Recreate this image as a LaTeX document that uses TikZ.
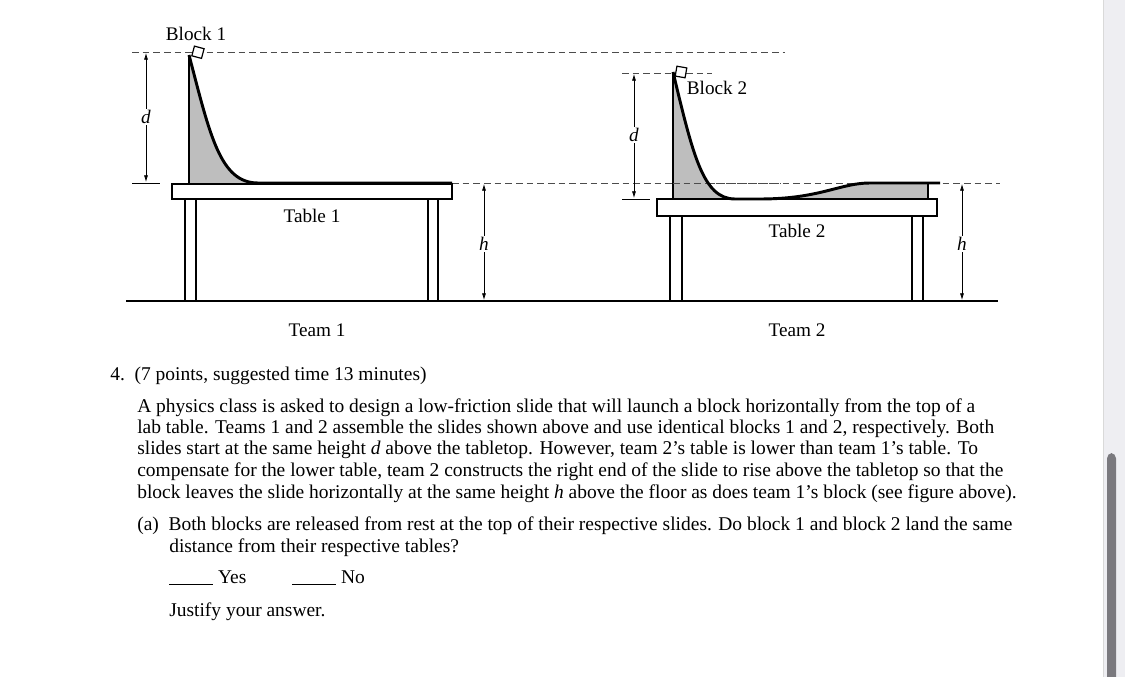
\documentclass[tikz,border=0pt]{standalone}
\usepackage{fontspec}
\setmainfont{Liberation Serif}
\usetikzlibrary{arrows.meta}
\definecolor{slidegray}{RGB}{190,190,190}
\definecolor{stripgray}{RGB}{238,238,242}
\definecolor{bargray}{RGB}{122,121,126}
\begin{document}
\begin{tikzpicture}[x=0.75pt,y=-0.75pt,
  thin line/.style={line width=0.9pt},
  slide/.style={line width=2.2pt},
  dashline/.style={dash pattern=on 5pt off 3pt,line width=0.7pt,black!70},
  dimarrow/.style={{Latex[length=5pt,width=3pt]}-{Latex[length=5pt,width=3pt]},line width=0.5pt},
  lbl/.style={font=\fontsize{14.4}{16}\selectfont,inner sep=0pt},
  ilbl/.style={fill=white,inner sep=1pt,font=\fontsize{14.4}{16}\selectfont\itshape},
  body/.style={font=\fontsize{14.6}{17}\selectfont,inner sep=0pt,anchor=base west}]
\useasboundingbox (0,0) rectangle (1125,677);
\fill[white] (0,0) rectangle (1125,677);
\fill[stripgray] (1103,0) rectangle (1125,677);
\draw[black!15] (1103,0) -- (1103,677);
\fill[bargray,rounded corners=4pt] (1107,453) rectangle (1116,690);
% --- Left setup
\draw[dashline] (132,52) -- (785,52);
\draw[dashline] (452,183) -- (1000,183);
\fill[slidegray] (189,55) .. controls (210,135) and (220,183) .. (258,183) -- (258,184) -- (189,184) -- cycle;
\draw[thin line] (189,55) -- (189,184);
\draw[slide] (189,55) .. controls (210,135) and (220,183) .. (258,183) -- (452,183);
\draw[thin line,fill=white,rotate around={-15:(197,52)}] (193,47) rectangle (203,57);
\draw[thin line] (172,184) rectangle (452,199);
\draw[thin line] (185,199) -- (185,301) (196,199) -- (196,301);
\draw[thin line] (428,199) -- (428,301) (438,199) -- (438,301);
\draw[line width=0.6pt] (132,183) -- (160,183);
\draw[dimarrow] (146,53) -- (146,182);
\node[ilbl] (d1) at (146,117) {d};
\draw[dimarrow] (484,184) -- (484,300);
\node[ilbl] (h1) at (484,244) {h};
\node[lbl] (b1) at (196,34) {Block 1};
\node[lbl] (tl1) at (312,216) {Table 1};
\node[lbl] (tm1) at (317,330) {Team 1};
% --- Right setup
\draw[dashline] (622,73) -- (712,73);
\fill[slidegray] (673,72) .. controls (693,155) and (703,199) .. (735,199) -- (760,199) .. controls (820,199) and (840,183) .. (870,183) -- (928,183) -- (928,199) -- (673,199) -- cycle;
\draw[thin line] (673,72) -- (673,199);
\draw[thin line] (928,183) -- (928,199);
\draw[dashline] (673,183) -- (780,183);
\draw[slide] (673,72) .. controls (693,155) and (703,199) .. (735,199) -- (760,199) .. controls (820,199) and (840,183) .. (870,183) -- (940,183);
\draw[thin line,fill=white,rotate around={-10:(681,72)}] (676,67) rectangle (686,77);
\draw[thin line] (657,199) rectangle (937,216);
\draw[thin line] (670,216) -- (670,301) (682,216) -- (682,301);
\draw[thin line] (912,216) -- (912,301) (923,216) -- (923,301);
\draw[line width=0.6pt] (622,199) -- (650,199);
\draw[dimarrow] (634,74) -- (634,198);
\node[ilbl] (d2) at (634,135) {d};
\draw[dimarrow] (962,184) -- (962,300);
\node[ilbl] (h2) at (962,244) {h};
\node[lbl] (b2) at (717,88) {Block 2};
\node[lbl] (tl2) at (797,231) {Table 2};
\node[lbl] (tm2) at (797,330) {Team 2};
% floor
\draw[line width=1.2pt] (126,301) -- (998,301);
% --- Text
\node[body] (q) at (110,380) {4.\ \ (7 points, suggested time 13 minutes)};
\node[body] (p1) at (137,412) {A physics class is asked to design a low-friction slide that will launch a block horizontally from the top of a};
\node[body] (p2) at (137,433) {lab table. Teams 1 and 2 assemble the slides shown above and use identical blocks 1 and 2, respectively. Both};
\node[body] (p3) at (137,454) {slides start at the same height \textit{d} above the tabletop. However, team 2's table is lower than team 1's table. To};
\node[body] (p4) at (137,476) {compensate for the lower table, team 2 constructs the right end of the slide to rise above the tabletop so that the};
\node[body] (p5) at (137,498) {block leaves the slide horizontally at the same height \textit{h} above the floor as does team 1's block (see figure above).};
\node[body] (a1) at (137,530) {(a)\ \ Both blocks are released from rest at the top of their respective slides. Do block 1 and block 2 land the same};
\node[body] (a2) at (169,552) {distance from their respective tables?};
\node[body] (y) at (169,583) {\rule[-1pt]{33pt}{0.5pt} Yes};
\node[body] (n) at (292,583) {\rule[-1pt]{33pt}{0.5pt} No};
\node[body] (j) at (169,616) {Justify your answer.};
\end{tikzpicture}
\end{document}
